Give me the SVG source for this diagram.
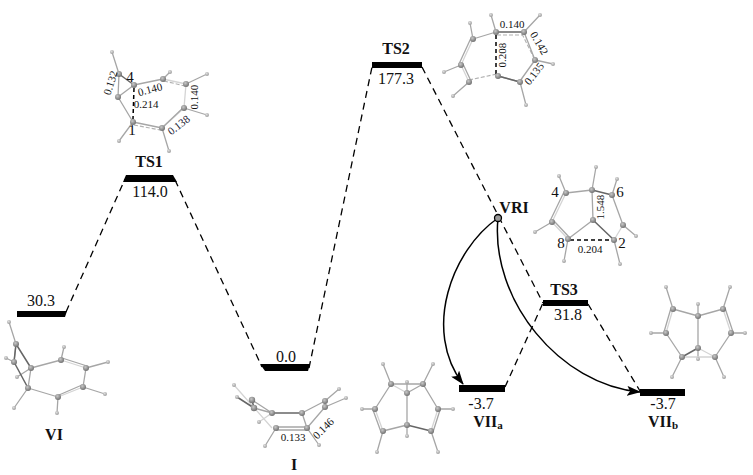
<svg xmlns="http://www.w3.org/2000/svg" width="753" height="475" viewBox="0 0 753 475">
<style>
text{font-family:"Liberation Serif","Times New Roman",serif;fill:#111}
.e{font-size:16px;text-anchor:middle}
.n{font-size:16px;font-weight:bold;text-anchor:middle}
.d{font-size:11px;text-anchor:middle}
.a{font-size:15px;text-anchor:middle}
.bar{fill:#000}
.dash{fill:none;stroke:#000;stroke-width:1.3;stroke-dasharray:7 5}
.curve{fill:none;stroke:#000;stroke-width:1.5}
.b{fill:none;stroke:#a6a6a6;stroke-width:1.3}
.l{fill:none;stroke:#d4d4d4;stroke-width:1.3}
.k{fill:none;stroke:#666;stroke-width:1.5}
.x{fill:none;stroke:#000;stroke-width:1.5;stroke-dasharray:4 3}
.g{fill:none;stroke:#b0b0b0;stroke-width:1.1;stroke-dasharray:4 2}
.c{fill:url(#cg)}
.h{fill:url(#hg)}
</style>
<defs>
<radialGradient id="cg" cx="40%" cy="35%" r="70%"><stop offset="0" stop-color="#c8c8c8"/><stop offset="1" stop-color="#6a6a6a"/></radialGradient>
<radialGradient id="hg" cx="40%" cy="35%" r="70%"><stop offset="0" stop-color="#ddd"/><stop offset="1" stop-color="#999"/></radialGradient>
<marker id="arr" viewBox="0 0 14 10" refX="13" refY="5" markerWidth="14" markerHeight="10" markerUnits="userSpaceOnUse" orient="auto"><path d="M0 0L14 5L0 10L3 5Z" fill="#000"/></marker>
</defs>
<g id="connectors">
<path class="dash" d="M66 312L125 179"/>
<path class="dash" d="M175 180L262 367"/>
<path class="dash" d="M309 368L372 67"/>
<path class="dash" d="M422 67L543 303"/>
<path class="dash" d="M505 387L543 303"/>
<path class="dash" d="M588 304L640 391"/>
<path class="curve" marker-end="url(#arr)" d="M498 218C452 250 422 330 463 384"/>
<path class="curve" marker-end="url(#arr)" d="M498 218C490 300 560 385 640 392"/>
</g>
<g id="VI">
<path class="bar" d="M17 311H67L65 317H17Z"/>
<text class="e" x="41" y="306">30.3</text>
<path class="b" d="M9 322L16 344L14 362M6 358L14 362M31 368L17 377M28 388L14 408M58 397L57 413M83 387L105 394M86 368L108 362M61 360L64 347"/>
<path class="k" d="M16 344L31 368M14 362L28 388M16 344L14 362"/>
<path class="b" d="M31 368L61 360M31 368L28 388M28 388L58 397M83 387L86 368"/>
<path class="l" d="M61 360L86 368M58 397L83 387"/>
<path class="b" d="M62 358L87 366M59 395L82 385"/>
<g class="c"><circle cx="16" cy="344" r="3"/><circle cx="14" cy="362" r="3"/><circle cx="31" cy="368" r="3"/><circle cx="28" cy="388" r="3"/><circle cx="58" cy="397" r="3"/><circle cx="83" cy="387" r="3"/><circle cx="86" cy="368" r="3"/><circle cx="61" cy="360" r="3"/></g>
<g class="h"><circle cx="9" cy="322" r="2"/><circle cx="6" cy="358" r="2"/><circle cx="17" cy="377" r="2"/><circle cx="14" cy="408" r="2"/><circle cx="57" cy="413" r="2"/><circle cx="105" cy="394" r="2"/><circle cx="108" cy="362" r="2"/><circle cx="64" cy="347" r="2"/></g>
<text class="n" x="54" y="440">VI</text>
</g>
<g id="TS1">
<path class="bar" d="M126 175H173L177 182H123Z"/>
<text class="e" x="150" y="197">114.0</text>
<text class="n" x="149" y="167">TS1</text>
<path class="b" d="M112 52L119 74M119 74L118 97M118 97L133 122M133 122L119 141M163 79L170 72M186 84L207 74M184 108L207 115M162 128L169 151M118 97L134 85"/>
<path class="k" d="M119 74L134 85"/>
<path class="b" d="M134 85L163 79M133 122L162 128"/>
<path class="l" d="M163 79L186 84M162 128L184 108M186 84L184 108"/>
<path class="b" d="M164 126L185 106"/>
<path class="g" d="M134 125L160 130M164 81L185 86"/>
<path class="x" d="M134 88L133 119" stroke-dasharray="3 6"/>
<g class="c"><circle cx="119" cy="74" r="3"/><circle cx="118" cy="97" r="3"/><circle cx="134" cy="85" r="3"/><circle cx="163" cy="79" r="3"/><circle cx="186" cy="84" r="3"/><circle cx="184" cy="108" r="3"/><circle cx="162" cy="128" r="3"/><circle cx="133" cy="122" r="3"/></g>
<g class="h"><circle cx="112" cy="52" r="2"/><circle cx="170" cy="72" r="2"/><circle cx="207" cy="74" r="2"/><circle cx="207" cy="115" r="2"/><circle cx="169" cy="151" r="2"/><circle cx="119" cy="141" r="2"/></g>
<text class="a" x="130" y="82">4</text>
<text class="a" x="132" y="135">1</text>
<text class="d" transform="translate(114 84) rotate(-72)">0.132</text>
<text class="d" transform="translate(151 93) rotate(-15)">0.140</text>
<text class="d" x="146" y="108">0.214</text>
<text class="d" transform="translate(198 97) rotate(-90)">0.140</text>
<text class="d" transform="translate(181 128) rotate(-38)" style="fill:#223">0.138</text>
</g>
<g id="I">
<path class="bar" d="M260 364H310L308 371H265Z"/>
<text class="e" x="286" y="362">0.0</text>
<path class="l" d="M234 385L272 428M259 422L272 413"/>
<path class="k" d="M237 397L254 408M252 400L254 408"/>
<path class="b" d="M254 408L272 413M252 400L272 413M302 413L325 401M302 413L307 428M325 401L325 407M325 401L339 389M325 407L346 398M307 428L325 407M276 428L265 446M307 428L319 445"/>
<path class="k" d="M272 413L302 413"/>
<path class="b" d="M276 427H307M276 430H307"/>
<g class="c"><circle cx="252" cy="400" r="3.2"/><circle cx="254" cy="408" r="3.2"/><circle cx="272" cy="413" r="3"/><circle cx="302" cy="413" r="3"/><circle cx="325" cy="401" r="3"/><circle cx="325" cy="407" r="3"/><circle cx="276" cy="428" r="3"/><circle cx="307" cy="428" r="3"/></g>
<g class="h"><circle cx="234" cy="385" r="2"/><circle cx="237" cy="397" r="2"/><circle cx="339" cy="389" r="2"/><circle cx="346" cy="398" r="2"/><circle cx="265" cy="446" r="2"/><circle cx="319" cy="445" r="2"/><circle cx="259" cy="422" r="2"/></g>
<text class="d" x="293" y="441">0.133</text>
<text class="d" transform="translate(326 431) rotate(-45)">0.146</text>
<text class="n" x="294" y="470">I</text>
</g>
<g id="TS2">
<rect class="bar" x="372" y="62" width="50" height="6"/>
<text class="n" x="396" y="54">TS2</text>
<text class="e" x="396" y="84">177.3</text>
<path class="b" d="M496 32L491 15M524 32L540 15M535 60L553 64M520 82L526 105M469 82L453 96M461 65L444 72M473 39L470 23M473 39L496 32M498 76L520 82"/>
<path class="k" d="M496 32L524 32M498 76L520 82"/>
<path class="l" d="M473 39L461 65M461 65L469 82"/>
<path class="b" d="M471 38L459 64M463 64L471 81M520 81L535 60"/>
<path class="g" d="M497 35L522 35M469 80L497 74M522 34L534 58"/>
<path class="b" d="M524 32L535 60"/>
<path class="x" d="M496 35V75"/>
<g class="c"><circle cx="496" cy="32" r="3"/><circle cx="524" cy="32" r="3"/><circle cx="535" cy="60" r="3"/><circle cx="520" cy="82" r="3"/><circle cx="498" cy="76" r="3"/><circle cx="469" cy="82" r="3"/><circle cx="461" cy="65" r="3"/><circle cx="473" cy="39" r="3"/></g>
<g class="h"><circle cx="491" cy="15" r="2"/><circle cx="540" cy="15" r="2"/><circle cx="553" cy="64" r="2"/><circle cx="526" cy="105" r="2"/><circle cx="453" cy="96" r="2"/><circle cx="444" cy="72" r="2"/><circle cx="470" cy="23" r="2"/></g>
<text class="d" x="512" y="28">0.140</text>
<text class="d" transform="translate(536 45) rotate(60)">0.142</text>
<text class="d" transform="translate(537 76) rotate(-52)">0.135</text>
<text class="d" transform="translate(506 55) rotate(-90)">0.208</text>
</g>
<g id="VRI">
<circle cx="498" cy="218" r="3.5" fill="#999" stroke="#000" stroke-width="1.3"/>
<text class="n" x="514" y="213">VRI</text>
<path class="b" d="M566 193L559 176M592 190L596 167M612 195L617 179M623 225L636 236M614 240L620 264M568 239L564 261M552 222L535 232M566 193L592 190M612 195L623 225M593 220L592 190"/>
<path class="l" d="M566 193L552 222M552 222L568 239M623 225L614 240"/>
<path class="b" d="M564 192L550 221M554 221L569 237"/>
<path class="k" d="M592 190L612 195M593 220L614 240"/>
<path class="b" d="M568 239L593 220"/>
<path class="x" d="M570 240H612"/>
<g class="c"><circle cx="566" cy="193" r="3"/><circle cx="592" cy="190" r="3"/><circle cx="612" cy="195" r="3"/><circle cx="623" cy="225" r="3"/><circle cx="614" cy="240" r="3"/><circle cx="568" cy="239" r="3"/><circle cx="552" cy="222" r="3"/><circle cx="593" cy="220" r="3"/></g>
<g class="h"><circle cx="559" cy="176" r="2"/><circle cx="596" cy="167" r="2"/><circle cx="617" cy="179" r="2"/><circle cx="636" cy="236" r="2"/><circle cx="620" cy="264" r="2"/><circle cx="564" cy="261" r="2"/><circle cx="535" cy="232" r="2"/></g>
<text class="a" x="555" y="197">4</text>
<text class="a" x="620" y="197">6</text>
<text class="a" x="561" y="248">8</text>
<text class="a" x="622" y="248">2</text>
<text class="d" transform="translate(604 207) rotate(-90)">1.548</text>
<text class="d" x="590" y="253">0.204</text>
</g>
<g id="TS3">
<rect class="bar" x="543" y="300" width="45" height="6"/>
<text class="n" x="564" y="295">TS3</text>
<text class="e" x="568" y="320">31.8</text>
</g>
<g id="VIIa">
<rect class="bar" x="459" y="385" width="46" height="7"/>
<text class="e" x="481" y="409">-3.7</text>
<text class="n" x="488" y="427">VII<tspan font-size="11" dy="2">a</tspan></text>
<path class="b" d="M383 364L391 384M433 364L423 384M391 384L423 384M423 384L407 393M407 382L407 393M391 384L375 409M375 409L362 409M423 384L438 409M438 409L453 409M383 431L377 452M431 431L438 452M407 425L383 431M407 393L407 425M407 425L407 436"/>
<path class="l" d="M391 384L407 393M375 409L383 431M438 409L431 431"/>
<path class="b" d="M373 410L381 432M440 410L433 432"/>
<path class="k" d="M407 425L431 431"/>
<g class="c"><circle cx="391" cy="384" r="3"/><circle cx="423" cy="384" r="3"/><circle cx="407" cy="393" r="3"/><circle cx="375" cy="409" r="3"/><circle cx="438" cy="409" r="3"/><circle cx="383" cy="431" r="3"/><circle cx="431" cy="431" r="3"/><circle cx="407" cy="425" r="3"/></g>
<g class="h"><circle cx="383" cy="364" r="2"/><circle cx="433" cy="364" r="2"/><circle cx="407" cy="382" r="2"/><circle cx="362" cy="409" r="2"/><circle cx="453" cy="409" r="2"/><circle cx="377" cy="452" r="2"/><circle cx="438" cy="452" r="2"/><circle cx="407" cy="436" r="2"/></g>
</g>
<g id="VIIb">
<rect class="bar" x="640" y="389" width="45" height="7"/>
<text class="e" x="663" y="409">-3.7</text>
<text class="n" x="663" y="427">VII<tspan font-size="11" dy="2">b</tspan></text>
<path class="b" d="M666 287L673 309M730 287L723 309M698 304L698 316M673 309L698 316M698 316L723 309M666 333L651 333M731 333L745 333M666 333L682 357M731 333L715 357M682 357L672 377M715 357L724 377M698 316L698 348M698 348L698 359"/>
<path class="l" d="M673 309L666 333M723 309L731 333M682 357L715 357M698 348L715 357"/>
<path class="b" d="M671 308L664 332M725 308L733 332"/>
<path class="k" d="M682 357L698 348"/>
<g class="c"><circle cx="673" cy="309" r="3"/><circle cx="723" cy="309" r="3"/><circle cx="698" cy="316" r="3"/><circle cx="666" cy="333" r="3"/><circle cx="731" cy="333" r="3"/><circle cx="682" cy="357" r="3"/><circle cx="715" cy="357" r="3"/><circle cx="698" cy="348" r="3"/></g>
<g class="h"><circle cx="666" cy="287" r="2"/><circle cx="730" cy="287" r="2"/><circle cx="698" cy="304" r="2"/><circle cx="651" cy="333" r="2"/><circle cx="745" cy="333" r="2"/><circle cx="672" cy="377" r="2"/><circle cx="724" cy="377" r="2"/><circle cx="698" cy="359" r="2"/></g>
</g>
</svg>
